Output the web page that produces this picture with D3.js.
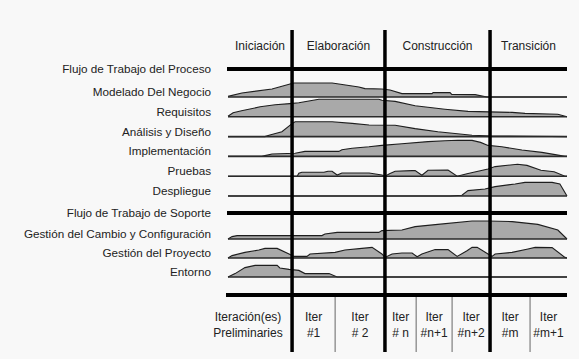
<!DOCTYPE html>
<html><head><meta charset="utf-8">
<script src="https://cdn.jsdelivr.net/npm/d3@7"></script>
<style>
html,body{margin:0;padding:0;background:#f8f8f8;}
svg{display:block;font-family:"Liberation Sans",Arial,sans-serif;}
</style></head>
<body><svg id="c" width="579" height="359"></svg>
<script>
// ---- data ----
const phases = ["Iniciación", "Elaboración", "Construcción", "Transición"];
const phaseBounds = [0, 18.9, 46.3, 77.3, 100];           // time (% of project)
const iterLabels = [["Iteración(es)", "Preliminaries"], ["Iter", "#1"], ["Iter", "# 2"], ["Iter", "# n"],
                    ["Iter", "#n+1"], ["Iter", "#n+2"], ["Iter", "#m"], ["Iter", "#m+1"]];
const iterBounds = [0, 18.9, 31.6, 46.3, 55.5, 66.1, 77.3, 89.1, 100];
const rows = ["Flujo de Trabajo del Proceso", "Modelado Del Negocio", "Requisitos", "Análisis y Diseño",
  "Implementación", "Pruebas", "Despliegue", "Flujo de Trabajo de Soporte",
  "Gestión del Cambio y Configuración", "Gestión del Proyecto", "Entorno"];
const headerRows = ["Flujo de Trabajo del Proceso", "Flujo de Trabajo de Soporte"];
// effort profiles: [time, effort]
const modelado = [[0,0.3],[4.1,2],[13,4],[18.3,6.5],[19.5,7],[30.7,7],[32.7,6.5],[38.6,5],[40.4,4.2],[45.4,4],[47.8,3.5],[51.3,1.7],[60.2,1.7],[60.5,2.2],[65.5,2.2],[66,1.3],[72.9,1.2],[76.4,0],[100,0]];
const requisitos = [[0,0.3],[1.5,2],[4,3],[9.5,5],[13.9,6],[18.3,6.6],[20.9,7],[26.8,8.8],[44.5,8.8],[45.4,8.3],[49.3,7.7],[55.2,5.5],[64,3.8],[70.8,2.7],[83.8,2.2],[87.6,1.7],[97.3,1.3],[100,0]];
const analisis = [[0,0],[10.9,0],[12.1,0.7],[15.9,2.4],[18.9,6.5],[19.8,7.4],[30.7,7.4],[36.6,6.6],[41.6,5.8],[49.3,5.7],[55.2,4],[61.9,2.4],[72,0.7],[77.9,0.3],[90.6,0.2],[100,0]];
const implementacion = [[0,0],[10,0],[10.9,0.4],[13,1.2],[19.8,1.6],[22.7,2.5],[32.7,2.5],[33.6,3.3],[36.6,4.1],[41.6,4.8],[45.4,5.5],[51.3,6.3],[59,7.4],[64,7.8],[67.8,8.1],[72,8],[74.5,7],[76.7,5.5],[80.8,4.8],[86.7,3.2],[92.6,2],[96.5,0.9],[99.4,0],[100,0]];
const pruebas = [[0,0],[20.4,0],[20.9,1.5],[21.8,2],[28.3,2],[29.5,2.5],[30.7,2.5],[32.2,0.6],[33.6,1.6],[41.6,1.6],[45.4,0.6],[46.3,0],[47.8,1.4],[49.3,2.5],[54.3,2.8],[55.2,2.8],[57.2,0.5],[59,3],[64.9,3.1],[67.6,0],[70.5,1.2],[76.7,3.6],[78.8,4.8],[85.4,6],[88.2,5.4],[92.3,3],[96.2,2.2],[99.4,0],[100,0]];
const despliegue = [[0,0],[65.5,0],[69,0.4],[70.8,2.7],[75.8,3.5],[78.8,4.7],[84.7,6],[87.6,6.8],[95.6,6.8],[97.9,6],[100,0]];
const cambio = [[0,0],[1.2,1.2],[2.7,1.7],[27.7,1.7],[28.6,2.5],[32.2,3.3],[44.5,3.3],[45.4,4.2],[51.3,4.5],[55.2,6.2],[61.9,7.3],[72,9],[76.7,9],[83.8,8.7],[91.4,7.3],[97.3,4.5],[100,0]];
const proyecto = [[0,0],[1.2,1.2],[5,2.8],[9.1,4],[10.9,4.8],[14.5,4.8],[18,2],[19.5,0.8],[23.3,0.8],[24.2,2],[31.6,2.8],[34.5,4],[39.5,4.8],[42.5,5.3],[45.4,2],[46.3,0.3],[48.4,2],[51.3,2.5],[54.3,2.5],[55.8,0.6],[57.2,2],[61.1,4.2],[64.9,4.2],[67.6,0.8],[70.5,3.6],[72,5.3],[73.5,5.3],[76.7,2],[77.9,0.8],[78.8,2],[83.8,2.8],[88.5,4.5],[90.6,5.3],[95.6,5.2],[99.4,0.3],[100,0]];
const entorno = [[0,0],[2.1,1.7],[5,4.7],[8,5.8],[14.5,5.8],[15.3,4.5],[18,3.8],[20.9,3.3],[22.7,1.7],[29.8,1.7],[32.2,0],[100,0]];
const profiles = {
  "Modelado Del Negocio": modelado, "Requisitos": requisitos, "Análisis y Diseño": analisis,
  "Implementación": implementacion, "Pruebas": pruebas, "Despliegue": despliegue,
  "Gestión del Cambio y Configuración": cambio, "Gestión del Proyecto": proyecto, "Entorno": entorno
};

// ---- layout ----
const svg = d3.select("#c");
const x = d3.scaleLinear().domain([0, 100]).range([228, 567]);
const rowY = d3.scaleLinear().domain([0, 1, 6, 7, 8, 10]).range([69, 97, 196, 213, 239, 277]);
const eff = d3.scaleLinear().domain([0, 10]).range([0, 20]);
const tableTop = 295, lineTop = 30, lineBottom = 352;

// humps
rows.forEach((r, i) => {
  const p = profiles[r];
  if (!p) return;
  const b = rowY(i);
  const area = d3.area().x(d => x(d[0])).y0(b).y1(d => b - eff(d[1]));
  svg.append("path").attr("d", area(p)).attr("fill", "#a9a9a9");
  const line = d3.line().x(d => x(d[0])).y(d => b - eff(d[1]));
  svg.append("path").attr("d", line(p)).attr("fill", "none").attr("stroke", "#1e1e1e").attr("stroke-width", 1.1);
  svg.append("line").attr("x1", x(0)).attr("x2", x(100)).attr("y1", b).attr("y2", b)
    .attr("stroke", "#2a2a2a").attr("stroke-width", 1.6);
});
// header rows thick lines
rows.forEach((r, i) => {
  if (!headerRows.includes(r)) return;
  svg.append("line").attr("x1", x(0) - 1).attr("x2", x(100)).attr("y1", rowY(i)).attr("y2", rowY(i))
    .attr("stroke", "#000").attr("stroke-width", 4);
});
// row labels
rows.forEach((r, i) => {
  const hdr = headerRows.includes(r);
  svg.append("text").attr("x", 211).attr("y", rowY(i) + (hdr ? 4 : -1))
    .attr("text-anchor", "end").attr("font-size", 11.7).attr("fill", "#222").text(r);
});
// table top line
svg.append("line").attr("x1", x(0) - 2).attr("x2", x(100)).attr("y1", tableTop).attr("y2", tableTop)
  .attr("stroke", "#000").attr("stroke-width", 4);
// iteration thin separators
iterBounds.slice(1, -1).forEach(t => {
  if (phaseBounds.includes(t)) return;
  svg.append("line").attr("x1", x(t)).attr("x2", x(t)).attr("y1", tableTop + 2).attr("y2", lineBottom)
    .attr("stroke", "#666").attr("stroke-width", 1);
});
// phase thick separators
phaseBounds.slice(1, -1).forEach(t => {
  svg.append("line").attr("x1", x(t)).attr("x2", x(t)).attr("y1", lineTop).attr("y2", lineBottom)
    .attr("stroke", "#000").attr("stroke-width", 3.5);
});
// phase labels
phases.forEach((p, i) => {
  svg.append("text").attr("x", (x(phaseBounds[i]) + x(phaseBounds[i + 1])) / 2).attr("y", 50)
    .attr("text-anchor", "middle").attr("font-size", 12).attr("fill", "#222").text(p);
});
// iteration labels
iterLabels.forEach((lab, i) => {
  const cx = (x(iterBounds[i]) + x(iterBounds[i + 1])) / 2 + (i === 0 ? -12 : 0);
  lab.forEach((s, j) => {
    svg.append("text").attr("x", cx).attr("y", 321 + j * 16).attr("text-anchor", "middle")
      .attr("font-size", 12).attr("fill", "#222").text(s);
  });
});
</script></body></html>
